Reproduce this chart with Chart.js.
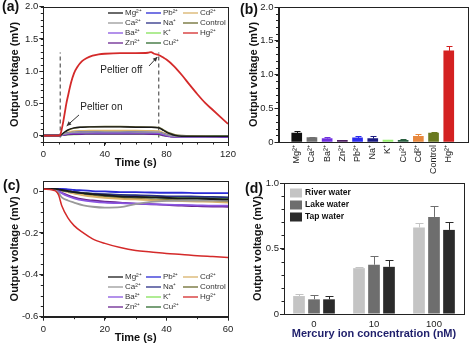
<!DOCTYPE html>
<html>
<head>
<meta charset="utf-8">
<title>Mercury ion response</title>
<script src="https://cdn.jsdelivr.net/npm/chart.js@4.4.1/dist/chart.umd.min.js"></script>
<style>
  html, body { margin: 0; padding: 0; background: #fff; }
  body { position: relative; width: 474px; height: 354px; overflow: hidden; font-family: 'Liberation Sans', Arial, sans-serif; }
  canvas { position: absolute; }
  .tag { position: absolute; font-size: 14px; font-weight: bold; line-height: 14px; color: #111; }
</style>
</head>
<body>
<canvas id="chartA" width="240" height="170" style="left:0;top:0"></canvas>
<canvas id="chartB" width="239" height="178" style="left:235px;top:0"></canvas>
<canvas id="chartC" width="240" height="178" style="left:0;top:172px"></canvas>
<canvas id="chartD" width="239" height="178" style="left:235px;top:172px"></canvas>
<div class="tag" style="left:2px;top:-1px">(a)</div>
<div class="tag" style="left:240px;top:2px">(b)</div>
<div class="tag" style="left:3px;top:178px">(c)</div>
<div class="tag" style="left:245px;top:181px">(d)</div>
<script>
Chart.defaults.font.family = "'Liberation Sans', Arial, sans-serif";
Chart.defaults.font.size = 9;
Chart.defaults.color = '#222';

// ions, same order in every panel
const ions = ['Mg²⁺', 'Ca²⁺', 'Ba²⁺', 'Zn²⁺', 'Pb²⁺', 'Na⁺', 'K⁺', 'Cu²⁺', 'Cd²⁺', 'Control', 'Hg²⁺'];
const ionLine = ['#1a1a1a', '#9a9a9a', '#8a55e0', '#6a2590', '#2b2bd6', '#2a2f86', '#86e25a', '#2f6b2f', '#d9b26a', '#6b6b2e', '#d42a2a'];
const ionBar = ['#111111', '#707070', '#7030e0', '#4e1f62', '#2c2cf0', '#1a1a80', '#98f070', '#2a6040', '#e8883e', '#6a7a20', '#d42121'];

// (a) heating response, Peltier on at 11 s and off at 75 s
const timeA = [0, 11, 13, 16, 20, 25, 30, 40, 50, 60, 70, 75, 78, 82, 86, 90, 100, 110, 120];
const aMg   = [0, 0, 0.04, 0.09, 0.12, 0.13, 0.135, 0.135, 0.135, 0.13, 0.13, 0.12, 0.08, 0.03, 0, -0.01, -0.01, -0.01, -0.01];
const aCa   = [0, 0, 0.02, 0.04, 0.05, 0.055, 0.055, 0.06, 0.06, 0.055, 0.055, 0.05, 0.03, 0, -0.01, -0.015, -0.015, -0.015, -0.01];
const aBa   = [0, 0, 0.01, 0.03, 0.04, 0.04, 0.04, 0.04, 0.04, 0.04, 0.04, 0.035, 0.015, -0.01, -0.02, -0.025, -0.025, -0.02, -0.02];
const aZn   = [0, 0, 0.005, 0.015, 0.02, 0.02, 0.025, 0.025, 0.025, 0.025, 0.02, 0.02, 0, -0.015, -0.025, -0.025, -0.025, -0.025, -0.02];
const aPb   = [0, 0, 0.02, 0.04, 0.05, 0.055, 0.055, 0.055, 0.055, 0.055, 0.05, 0.05, 0.03, 0, -0.01, -0.015, -0.02, -0.02, -0.02];
const aNa   = [0, 0, 0.015, 0.035, 0.045, 0.05, 0.05, 0.05, 0.05, 0.05, 0.045, 0.045, 0.02, -0.005, -0.015, -0.02, -0.02, -0.02, -0.02];
const aK    = [0, 0, 0.005, 0.01, 0.015, 0.02, 0.02, 0.02, 0.02, 0.02, 0.02, 0.015, 0, -0.01, -0.015, -0.015, -0.015, -0.01, -0.01];
const aCu   = [0, 0, 0.01, 0.02, 0.025, 0.03, 0.03, 0.03, 0.03, 0.03, 0.025, 0.02, 0.005, -0.01, -0.015, -0.02, -0.02, -0.015, -0.015];
const aCd   = [0, 0, 0.02, 0.05, 0.07, 0.075, 0.08, 0.08, 0.08, 0.08, 0.075, 0.07, 0.045, 0.015, 0, -0.01, -0.01, -0.01, -0.01];
const aCtrl = [0, 0, 0.03, 0.08, 0.115, 0.13, 0.135, 0.14, 0.14, 0.135, 0.13, 0.125, 0.09, 0.04, 0.01, 0, -0.005, -0.01, -0.01];
const timeAHg = [0, 10, 11, 12, 13, 14, 15, 16, 18, 20, 22, 25, 28, 32, 36, 40, 50, 60, 68, 70, 72, 75, 78, 80, 85, 90, 95, 100, 105, 110, 115, 120];
const aHg     = [0, 0, 0.01, 0.1, 0.22, 0.36, 0.5, 0.61, 0.82, 0.97, 1.06, 1.15, 1.2, 1.24, 1.26, 1.27, 1.28, 1.28, 1.285, 1.295, 1.27, 1.25, 1.21, 1.18, 1.075, 0.94, 0.79, 0.645, 0.51, 0.4, 0.29, 0.18];
const peltierTimes = [11, 75];
const peltierSpan = [-0.03, 1.29];
const ticksAX = [0, 40, 80, 120];
const ticksAY = [0, 0.5, 1.0, 1.5, 2.0];

// (b) steady-state voltage
const meanB = [0.134, 0.065, 0.05, 0.025, 0.06, 0.05, 0.03, 0.025, 0.085, 0.134, 1.35];
const errB  = [0.03, 0.01, 0.03, 0.005, 0.025, 0.035, 0.005, 0.02, 0.03, 0.01, 0.065];
const ticksBY = [0, 0.5, 1.0, 1.5, 2.0];

// (c) cooling response
const timeC = [0, 3, 4, 5, 6, 8, 10, 13, 16, 20, 25, 30, 35, 40, 45, 50, 55, 60];
const cMg   = [0.01, 0.01, 0.01, 0.008, 0.005, 0, -0.005, -0.01, -0.015, -0.02, -0.025, -0.028, -0.03, -0.032, -0.035, -0.035, -0.038, -0.04];
const cCa   = [0.01, 0.01, 0.005, -0.01, -0.03, -0.045, -0.055, -0.068, -0.075, -0.079, -0.077, -0.062, -0.052, -0.047, -0.045, -0.045, -0.045, -0.045];
const cBa   = [0.01, 0.01, 0.008, 0, -0.01, -0.025, -0.035, -0.045, -0.05, -0.055, -0.058, -0.06, -0.062, -0.065, -0.066, -0.068, -0.07, -0.07];
const cZn   = [0.01, 0.01, 0.008, 0, -0.008, -0.02, -0.03, -0.04, -0.045, -0.05, -0.055, -0.06, -0.063, -0.066, -0.07, -0.072, -0.074, -0.075];
const cPb   = [0.01, 0.01, 0.01, 0.01, 0.01, 0.008, 0.005, 0.003, 0, -0.002, -0.005, -0.005, -0.007, -0.008, -0.008, -0.01, -0.01, -0.01];
const cNa   = [0.01, 0.01, 0.01, 0.008, 0.005, 0, -0.005, -0.01, -0.012, -0.015, -0.018, -0.02, -0.022, -0.025, -0.025, -0.027, -0.028, -0.03];
const cK    = [0.01, 0.01, 0.01, 0.008, 0.005, 0, -0.005, -0.01, -0.013, -0.016, -0.02, -0.022, -0.025, -0.027, -0.028, -0.03, -0.03, -0.032];
const cCu   = [0.01, 0.01, 0.01, 0.008, 0.004, 0, -0.005, -0.01, -0.015, -0.02, -0.024, -0.027, -0.03, -0.032, -0.034, -0.036, -0.037, -0.038];
const cCd   = [0.01, 0.01, 0.01, 0.006, 0.002, -0.005, -0.012, -0.02, -0.026, -0.032, -0.037, -0.04, -0.043, -0.046, -0.048, -0.05, -0.052, -0.055];
const cCtrl = [0.01, 0.01, 0.01, 0.007, 0.003, -0.003, -0.01, -0.016, -0.022, -0.028, -0.032, -0.036, -0.04, -0.042, -0.044, -0.046, -0.048, -0.05];
const cHg   = [0.01, 0.005, 0, -0.02, -0.07, -0.128, -0.165, -0.2, -0.228, -0.25, -0.27, -0.284, -0.291, -0.298, -0.303, -0.309, -0.313, -0.317];
const ticksCX = [0, 20, 40, 60];
const ticksCY = [-0.6, -0.4, -0.2, 0];

// (d) real water samples
const concLabels = ['0', '10', '100'];
const riverVals = [0.137, 0.35, 0.66];
const lakeVals  = [0.112, 0.376, 0.741];
const tapVals   = [0.112, 0.36, 0.642];
const riverErr  = [0.015, 0.01, 0.035];
const lakeErr   = [0.03, 0.07, 0.086];
const tapErr    = [0.025, 0.053, 0.06];
const ticksDY = [0, 0.5, 1.0];

// ---------- plugins ----------
const frame = {
  id: 'frame',
  afterDraw(chart) {
    const { ctx, chartArea: a } = chart;
    ctx.save();
    ctx.strokeStyle = '#222';
    ctx.lineWidth = 1;
    ctx.strokeRect(Math.round(a.left) + 0.5, Math.round(a.top) + 0.5,
      Math.round(a.right - a.left), Math.round(a.bottom - a.top));
    ctx.restore();
  }
};

// short unlabelled ticks between the major ones
const minorTicks = {
  id: 'minorTicks',
  afterDraw(chart, args, opts) {
    const { ctx, chartArea: a } = chart;
    ctx.save();
    ctx.strokeStyle = '#222';
    ctx.lineWidth = 1;
    ['x', 'y'].forEach(id => {
      const step = opts[id];
      if (!step) return;
      const s = chart.scales[id];
      for (let k = Math.ceil(s.min / step - 1e-6); k <= Math.floor(s.max / step + 1e-6); k++) {
        const p = Math.round(s.getPixelForValue(k * step)) + 0.5;
        ctx.beginPath();
        if (id === 'x') { ctx.moveTo(p, a.bottom); ctx.lineTo(p, a.bottom + 2.5); }
        else { ctx.moveTo(a.left, p); ctx.lineTo(a.left - 2.5, p); }
        ctx.stroke();
      }
    });
    ctx.restore();
  }
};

// three-column key used in (a) and (c)
const seriesKey = {
  id: 'seriesKey',
  afterDraw(chart, args, opts) {
    const ctx = chart.ctx;
    ctx.save();
    ctx.font = "8px 'Liberation Sans', Arial, sans-serif";
    ctx.textBaseline = 'middle';
    ctx.fillStyle = '#333';
    let n = 0;
    chart.data.datasets.forEach(ds => {
      if (!ds.label) return;
      const x = opts.cols[Math.floor(n / 4)];
      const y = opts.top + (n % 4) * opts.rowGap;
      ctx.strokeStyle = ds.borderColor;
      ctx.lineWidth = 1.3;
      ctx.beginPath();
      ctx.moveTo(x, y);
      ctx.lineTo(x + 15, y);
      ctx.stroke();
      ctx.fillText(ds.label, x + 17, y);
      n++;
    });
    ctx.restore();
  }
};

const errorBars = {
  id: 'errorBars',
  afterDatasetsDraw(chart, args, opts) {
    const ctx = chart.ctx, y = chart.scales.y;
    ctx.save();
    ctx.lineWidth = 1;
    chart.data.datasets.forEach((ds, d) => {
      chart.getDatasetMeta(d).data.forEach((bar, i) => {
        const top = Math.round(y.getPixelForValue(ds.data[i] + ds.errors[i])) + 0.5;
        const x = Math.round(bar.x) + 0.5;
        ctx.strokeStyle = Array.isArray(ds.backgroundColor) ? ds.backgroundColor[i] : ds.backgroundColor;
        ctx.beginPath();
        ctx.moveTo(x, bar.y);
        ctx.lineTo(x, top);
        ctx.moveTo(x - opts.cap, top);
        ctx.lineTo(x + opts.cap, top);
        ctx.stroke();
      });
    });
    ctx.restore();
  }
};

const notes = {
  id: 'notes',
  afterDraw(chart, args, opts) {
    const { ctx, scales: { x, y } } = chart;
    ctx.save();
    ctx.font = "10px 'Liberation Sans', Arial, sans-serif";
    ctx.textBaseline = 'middle';
    opts.items.forEach(n => {
      ctx.fillStyle = '#222';
      ctx.fillText(n.text, x.getPixelForValue(n.at[0]), y.getPixelForValue(n.at[1]));
      const x0 = x.getPixelForValue(n.from[0]), y0 = y.getPixelForValue(n.from[1]);
      const x1 = x.getPixelForValue(n.to[0]), y1 = y.getPixelForValue(n.to[1]);
      const ang = Math.atan2(y1 - y0, x1 - x0);
      ctx.strokeStyle = '#333';
      ctx.fillStyle = '#333';
      ctx.lineWidth = 1;
      ctx.beginPath();
      ctx.moveTo(x0, y0);
      ctx.lineTo(x1, y1);
      ctx.stroke();
      ctx.beginPath();
      ctx.moveTo(x1, y1);
      ctx.lineTo(x1 - 5 * Math.cos(ang - 0.45), y1 - 5 * Math.sin(ang - 0.45));
      ctx.lineTo(x1 - 5 * Math.cos(ang + 0.45), y1 - 5 * Math.sin(ang + 0.45));
      ctx.closePath();
      ctx.fill();
    });
    ctx.restore();
  }
};

// ---------- helpers ----------
const pts = (t, v) => t.map((x, i) => ({ x: x, y: v[i] }));
const oneDec = v => (v === 0 ? '0' : v.toFixed(1));
const titleFont = { size: 11, weight: 'bold' };

function yAxis(min, max, ticks, width, titlePad, extra) {
  return Object.assign({
    min: min, max: max,
    afterBuildTicks: s => { s.ticks = ticks.map(v => ({ value: v })); },
    ticks: { padding: 1, font: { size: 9.5 }, callback: oneDec },
    grid: { drawOnChartArea: false, tickLength: 4, color: '#222' },
    border: { color: '#222' },
    title: { display: true, text: 'Output voltage (mV)', font: titleFont, color: '#111', padding: { top: titlePad, bottom: 0 } },
    afterFit: s => { s.width = width; }
  }, extra || {});
}

// ---------- (a) ----------
const seriesA = [aMg, aCa, aBa, aZn, aPb, aNa, aK, aCu, aCd, aCtrl];
const dsA = seriesA.map((v, i) => ({
  label: ions[i], data: pts(timeA, v), borderColor: ionLine[i], borderWidth: 1.4, order: 1
}));
dsA.push({ label: ions[10], data: pts(timeAHg, aHg), borderColor: ionLine[10], borderWidth: 1.8, order: 0 });
peltierTimes.forEach(t => dsA.push({
  label: '', data: pts([t, t], peltierSpan), borderColor: '#555', borderWidth: 1.2,
  borderDash: [4, 3], cubicInterpolationMode: 'default', tension: 0, order: 2
}));

new Chart(document.getElementById('chartA'), {
  type: 'line',
  data: { datasets: dsA },
  plugins: [frame, minorTicks, seriesKey, notes],
  options: {
    responsive: false, animation: false,
    layout: { padding: { top: 6, right: 12, left: 0, bottom: 0 } },
    elements: { point: { radius: 0 }, line: { cubicInterpolationMode: 'monotone' } },
    plugins: {
      legend: { display: false }, tooltip: { enabled: false },
      minorTicks: { x: 10, y: 0.1 },
      seriesKey: { cols: [108, 146, 183], top: 13, rowGap: 10 },
      notes: { items: [
        { text: 'Peltier on', at: [24, 0.44], from: [23.2, 0.32], to: [15.2, 0.15] },
        { text: 'Peltier off', at: [37, 1.01], from: [68.7, 1.08], to: [74.1, 1.22] }
      ] }
    },
    scales: {
      x: {
        type: 'linear', min: 0, max: 120,
        afterBuildTicks: s => { s.ticks = ticksAX.map(v => ({ value: v })); },
        ticks: { padding: 3, font: { size: 9.5 } },
        grid: { drawOnChartArea: false, tickLength: 4, color: '#222' },
        border: { color: '#222' },
        title: { display: true, text: 'Time (s)', font: titleFont, color: '#111', padding: 0 },
        afterFit: s => { s.height = 28; }
      },
      y: yAxis(-0.1, 2.0, ticksAY, 43.3, 8)
    }
  }
});

// ---------- (b) ----------
new Chart(document.getElementById('chartB'), {
  type: 'bar',
  data: {
    labels: ions.map((_, i) => i),
    datasets: [{ data: meanB, errors: errB, backgroundColor: ionBar, barThickness: 10 }]
  },
  plugins: [frame, minorTicks, errorBars],
  options: {
    responsive: false, animation: false,
    layout: { padding: { top: 7, right: 7, left: 0, bottom: 0 } },
    plugins: { legend: { display: false }, tooltip: { enabled: false }, minorTicks: { y: 0.1 }, errorBars: { cap: 3 } },
    scales: {
      x: {
        type: 'linear', min: -1.2, max: 11.2, offset: false,
        afterBuildTicks: s => { s.ticks = ions.map((_, i) => ({ value: i })); },
        ticks: { autoSkip: false, minRotation: 90, maxRotation: 90, padding: 3, font: { size: 9 }, callback: v => ions[v] },
        grid: { display: false, drawTicks: false },
        border: { color: '#222' },
        afterFit: s => { s.height = 36; }
      },
      y: yAxis(0, 2.0, ticksBY, 43.5, 12)
    }
  }
});

// ---------- (c) ----------
const seriesC = [cMg, cCa, cBa, cZn, cPb, cNa, cK, cCu, cCd, cCtrl];
const dsC = seriesC.map((v, i) => ({
  label: ions[i], data: pts(timeC, v), borderColor: ionLine[i], borderWidth: 1.8, order: 1
}));
dsC.push({ label: ions[10], data: pts(timeC, cHg), borderColor: ionLine[10], borderWidth: 1.5, order: 0 });

new Chart(document.getElementById('chartC'), {
  type: 'line',
  data: { datasets: dsC },
  plugins: [frame, minorTicks, seriesKey],
  options: {
    responsive: false, animation: false,
    layout: { padding: { top: 9, right: 12, left: 0, bottom: 5.4 } },
    elements: { point: { radius: 0 }, line: { cubicInterpolationMode: 'monotone' } },
    plugins: {
      legend: { display: false }, tooltip: { enabled: false },
      minorTicks: { x: 10, y: 0.05 },
      seriesKey: { cols: [108, 146, 183], top: 105, rowGap: 10 }
    },
    scales: {
      x: {
        type: 'linear', min: 0, max: 60,
        afterBuildTicks: s => { s.ticks = ticksCX.map(v => ({ value: v })); },
        ticks: { padding: 3, font: { size: 9.5 } },
        grid: { drawOnChartArea: false, tickLength: 4, color: '#222' },
        border: { color: '#222' },
        title: { display: true, text: 'Time (s)', font: titleFont, color: '#111', padding: 0 },
        afterFit: s => { s.height = 27.9; }
      },
      y: yAxis(-0.6, 0.048, ticksCY, 43.3, 8.4)
    }
  }
});

// ---------- (d) ----------
const keyD = {
  id: 'keyD',
  afterDraw(chart) {
    const ctx = chart.ctx;
    ctx.save();
    ctx.font = "bold 8.5px 'Liberation Sans', Arial, sans-serif";
    ctx.textBaseline = 'middle';
    chart.data.datasets.forEach((ds, i) => {
      const y = 21 + i * 12;
      ctx.fillStyle = ds.backgroundColor;
      ctx.fillRect(55, y - 4.5, 12, 9);
      ctx.fillStyle = '#111';
      ctx.fillText(ds.label, 70, y);
    });
    ctx.restore();
  }
};

new Chart(document.getElementById('chartD'), {
  type: 'bar',
  data: {
    labels: concLabels,
    datasets: [
      { label: 'River water', data: riverVals, errors: riverErr, backgroundColor: '#c4c4c4' },
      { label: 'Lake water', data: lakeVals, errors: lakeErr, backgroundColor: '#6e6e6e' },
      { label: 'Tap water', data: tapVals, errors: tapErr, backgroundColor: '#2b2b2b' }
    ]
  },
  plugins: [frame, minorTicks, errorBars, keyD],
  options: {
    responsive: false, animation: false,
    layout: { padding: { top: 11, right: 10, left: 0, bottom: 9.4 } },
    datasets: { bar: { categoryPercentage: 0.75, barPercentage: 0.78 } },
    plugins: { legend: { display: false }, tooltip: { enabled: false }, minorTicks: { y: 0.1 }, errorBars: { cap: 4 } },
    scales: {
      x: {
        ticks: { padding: 5, font: { size: 9.5 } },
        grid: { display: false, drawTicks: false },
        border: { color: '#222' },
        title: { display: true, text: 'Mercury ion concentration (nM)', font: titleFont, color: '#1f1f6b', padding: 0 },
        afterFit: s => { s.height = 26.6; }
      },
      y: yAxis(0, 1.0, ticksDY, 49, 16)
    }
  }
});
</script>
</body>
</html>
